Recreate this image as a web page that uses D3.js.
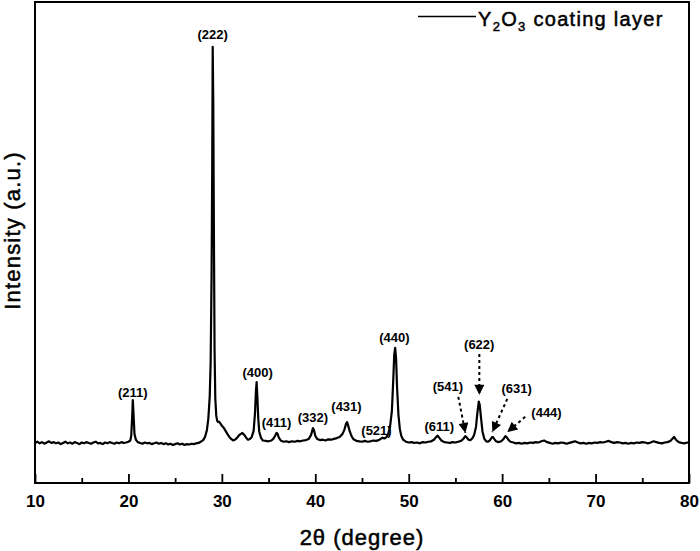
<!DOCTYPE html>
<html>
<head>
<meta charset="utf-8">
<script src="https://cdn.jsdelivr.net/npm/d3@7"></script>
<style>
  html, body { margin: 0; padding: 0; background: #fff; }
  svg { display: block; font-family: "Liberation Sans", Arial, sans-serif; }
</style>
</head>
<body>
<svg id="chart" width="700" height="551"></svg>
<script>
// ---- data ----
const twoTheta = [
  10.0,10.25,10.5,10.75,11.0,11.25,11.5,11.75,12.0,12.25,12.5,12.75,13.0,13.25,13.5,13.75,14.0,14.25,14.5,14.75,
  15.0,15.25,15.5,15.75,16.0,16.25,16.5,16.75,17.0,17.25,17.5,17.75,18.0,18.25,18.5,18.75,19.0,19.25,19.5,19.75,
  20.0,20.2,20.3,20.4,20.47,20.55,20.65,20.8,21.0,21.25,21.5,21.75,22.0,22.25,22.5,22.75,23.0,23.25,23.5,23.75,
  24.0,24.25,24.5,24.75,25.0,25.25,25.5,25.75,26.0,26.25,26.5,26.75,27.0,27.25,27.5,27.75,28.0,28.2,28.4,28.55,
  28.7,28.8,28.9,28.97,29.02,29.08,29.15,29.22,29.3,29.4,29.5,29.6,29.7,29.85,30.0,30.2,30.4,30.6,30.8,31.0,
  31.2,31.4,31.6,31.8,32.0,32.2,32.4,32.6,32.8,33.0,33.2,33.4,33.55,33.65,33.72,33.8,33.9,34.0,34.2,34.4,
  34.7,35.0,35.3,35.5,35.7,35.85,35.95,36.1,36.3,36.6,36.9,37.2,37.5,37.8,38.1,38.4,38.7,39.0,39.3,39.55,
  39.75,39.85,40.0,40.2,40.5,40.8,41.1,41.4,41.7,42.0,42.3,42.6,42.9,43.1,43.3,43.4,43.5,43.7,43.9,44.1,
  44.4,44.7,45.0,45.3,45.6,45.9,46.2,46.5,46.8,47.0,47.2,47.4,47.6,47.8,48.0,48.2,48.35,48.45,48.55,48.65,
  48.75,48.9,49.05,49.2,49.4,49.7,50.0,50.3,50.6,50.9,51.2,51.5,51.8,52.1,52.4,52.7,52.9,53.1,53.3,53.5,
  53.8,54.1,54.4,54.7,55.0,55.3,55.6,55.85,56.05,56.2,56.4,56.6,56.8,57.0,57.2,57.35,57.5,57.6,57.75,57.9,
  58.1,58.3,58.5,58.7,58.9,59.0,59.15,59.35,59.6,59.9,60.15,60.35,60.5,60.7,60.9,61.2,61.5,61.8,62.1,62.4,
  62.7,63.0,63.3,63.6,63.9,64.2,64.5,64.8,65.1,65.4,65.7,66.0,66.3,66.6,66.9,67.2,67.5,67.8,68.1,68.4,
  68.7,69.0,69.3,69.6,69.9,70.2,70.5,70.8,71.1,71.4,71.7,72.0,72.3,72.6,72.9,73.2,73.5,73.8,74.1,74.4,
  74.7,75.0,75.3,75.6,75.9,76.2,76.5,76.8,77.1,77.4,77.7,78.0,78.2,78.4,78.6,78.9,79.2,79.5,79.8,80.0
];
const intensity = [
  100,103,99,102,98,101,104,100,102,99,101,97,100,103,99,101,98,102,100,97,
  101,99,102,100,98,101,103,99,100,97,101,99,102,100,98,101,99,102,100,101,
  103,106,118,165,207,170,122,108,102,100,98,101,99,100,97,99,101,98,100,97,
  99,96,98,95,97,99,96,98,95,97,96,98,97,99,100,103,107,115,132,160,
  215,300,520,800,1088,950,620,330,210,168,155,152,153,148,143,138,130,122,115,110,
  106,108,112,118,122,125,120,113,108,110,115,130,175,230,252,215,160,128,112,106,
  105,104,106,110,118,125,123,113,106,103,104,102,104,103,105,104,106,107,110,120,
  137,133,118,110,107,108,106,109,108,110,112,115,122,132,148,152,145,128,116,109,
  105,104,103,105,103,104,106,105,107,110,113,111,114,122,140,180,260,320,337,310,
  240,170,135,118,108,103,101,102,100,101,99,102,101,103,104,108,114,118,112,106,
  102,101,100,102,101,103,105,110,117,114,108,107,111,120,140,175,203,195,160,128,
  110,104,103,107,114,115,110,104,102,104,110,117,114,107,103,101,99,100,98,100,
  99,101,100,102,101,104,106,102,100,98,100,99,101,100,98,100,102,104,101,99,
  100,98,100,99,101,100,102,101,103,105,102,100,102,101,99,100,98,100,99,101,
  100,102,101,99,101,104,102,100,99,101,102,105,110,115,108,102,100,99,101,100
];
const majorTicks = [10, 20, 30, 40, 50, 60, 70, 80];
const minorTicks = [15, 25, 35, 45, 55, 65, 75];

// peak labels (position in data units)
const peakNames = ["(211)","(222)","(400)","(411)","(332)","(431)","(521)","(440)","(611)","(541)","(622)","(631)","(444)"];
const peakLabelX = [20.47, 29.02, 33.83, 35.85, 39.75, 43.34, 46.55, 48.47, 53.28, 54.2, 57.55, 61.55, 64.75];
const peakLabelY = [225, 1118, 277, 150, 163, 192, 130, 364, 140, 240, 345, 237, 175];

// dashed arrows (start -> tip, data units)
const arrowStartX = [55.31, 57.56, 60.55, 62.47];
const arrowStartY = [215, 322, 210, 165];
const arrowEndX   = [56.06, 57.56, 58.95, 60.55];
const arrowEndY   = [125, 220, 127, 127];

const legendLabel = ["Y", "2", "O", "3", " coating layer"];

// ---- layout ----
const svg = d3.select("#chart");
const m = { left: 35, right: 689, top: 2, bottom: 483 };

const x = d3.scaleLinear().domain([10, 80]).range([m.left, m.right]);
const y = d3.scaleLinear().domain([0, 1200]).range([m.bottom, m.top]);

// bottom axis: major + minor inward ticks
const axMajor = d3.axisBottom(x).tickValues(majorTicks).tickSize(-9).tickPadding(12).tickFormat(d3.format("d"));
const gMaj = svg.append("g").attr("transform", `translate(0,${m.bottom})`).call(axMajor);
gMaj.select(".domain").remove();
gMaj.selectAll(".tick line").attr("stroke", "#000").attr("stroke-width", 1.8);
gMaj.selectAll(".tick text").attr("fill", "#000").style("font-size", "17px").style("font-weight", "bold");

const axMinor = d3.axisBottom(x).tickValues(minorTicks).tickSize(-5).tickFormat("");
const gMin = svg.append("g").attr("transform", `translate(0,${m.bottom})`).call(axMinor);
gMin.select(".domain").remove();
gMin.selectAll(".tick line").attr("stroke", "#000").attr("stroke-width", 1.8);

// data line
const line = d3.line().x((d, i) => x(twoTheta[i])).y((d, i) => y(intensity[i]));
svg.append("path")
  .datum(intensity)
  .attr("d", line)
  .attr("fill", "none")
  .attr("stroke", "#000")
  .attr("stroke-width", 2.2)
  .attr("stroke-linejoin", "round");

// frame
svg.append("rect")
  .attr("x", m.left).attr("y", m.top)
  .attr("width", m.right - m.left).attr("height", m.bottom - m.top)
  .attr("fill", "none").attr("stroke", "#000").attr("stroke-width", 2);

// peak labels
svg.append("g").selectAll("text")
  .data(peakNames)
  .join("text")
  .attr("x", (d, i) => x(peakLabelX[i]))
  .attr("y", (d, i) => y(peakLabelY[i]))
  .attr("dy", "0.35em")
  .attr("text-anchor", "middle")
  .style("font-size", "13px")
  .style("font-weight", "bold")
  .attr("fill", "#000")
  .text(d => d);

// arrows
const defs = svg.append("defs");
defs.append("marker")
  .attr("id", "ah").attr("viewBox", "0 0 10 10")
  .attr("refX", 10).attr("refY", 5)
  .attr("markerWidth", 5.5).attr("markerHeight", 5)
  .attr("markerUnits", "strokeWidth")
  .attr("orient", "auto")
  .append("path").attr("d", "M0,0 L10,5 L0,10 Z").attr("fill", "#000");

svg.append("g").selectAll("line")
  .data(arrowStartX)
  .join("line")
  .attr("x1", (d, i) => x(arrowStartX[i]))
  .attr("y1", (d, i) => y(arrowStartY[i]))
  .attr("x2", (d, i) => x(arrowEndX[i]))
  .attr("y2", (d, i) => y(arrowEndY[i]))
  .attr("stroke", "#000")
  .attr("stroke-width", 2)
  .attr("stroke-dasharray", "3,3")
  .attr("marker-end", "url(#ah)");

// axis titles
svg.append("text")
  .attr("x", (m.left + m.right) / 2).attr("y", 545)
  .attr("text-anchor", "middle")
  .style("font-size", "22px").style("letter-spacing", "1px")
  .attr("fill", "#000").attr("stroke", "#000").attr("stroke-width", 0.5)
  .text("2θ (degree)");

svg.append("text")
  .attr("transform", `translate(20,${(m.top + m.bottom) / 2 - 12}) rotate(-90)`)
  .attr("text-anchor", "middle")
  .style("font-size", "22px").style("letter-spacing", "1.2px")
  .attr("fill", "#000").attr("stroke", "#000").attr("stroke-width", 0.5)
  .text("Intensity (a.u.)");

// legend
const lg = svg.append("g");
lg.append("line")
  .attr("x1", 418).attr("x2", 476).attr("y1", 16.5).attr("y2", 16.5)
  .attr("stroke", "#000").attr("stroke-width", 1.4);
const lt = lg.append("text").attr("x", 478).attr("y", 26)
  .style("font-size", "20px").style("letter-spacing", "1.3px")
  .attr("fill", "#000").attr("stroke", "#000").attr("stroke-width", 0.5);
lt.append("tspan").text(legendLabel[0]);
lt.append("tspan").attr("dy", 5).style("font-size", "13px").text(legendLabel[1]);
lt.append("tspan").attr("dy", -5).text(legendLabel[2]);
lt.append("tspan").attr("dy", 5).style("font-size", "13px").text(legendLabel[3]);
lt.append("tspan").attr("dy", -5).text(legendLabel[4]);
</script>
</body>
</html>
